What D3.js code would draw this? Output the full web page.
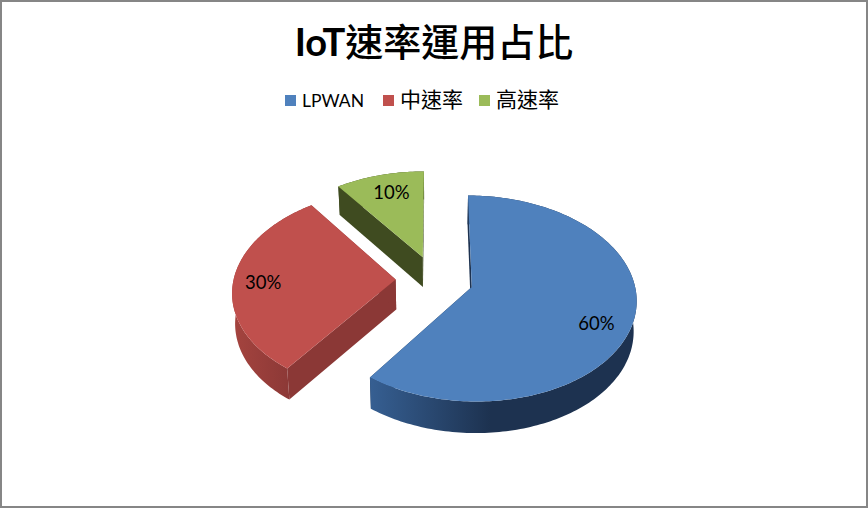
<!DOCTYPE html>
<html>
<head>
<meta charset="utf-8">
<script src="https://cdn.jsdelivr.net/npm/d3@7"></script>
<style>
html,body{margin:0;padding:0;background:#fff;}
svg{display:block;}
text{fill:#000;}
</style>
</head>
<body>
<svg id="chart" width="868" height="508"></svg>
<script>
var categories = ["LPWAN", "中速率", "高速率"];
var shares = [60, 30, 10];
var labels = ["60%", "30%", "10%"];
var titleLatin = "IoT";
var titleCjk = "速率運用占比";

var topColors = ["#4f81bd", "#c0504d", "#9bbb59"];
var wallColors = ["#1d3250", "#8b3836", "#3f4b20"];
var sideStops = [["#365f92", "#1d3250"], ["#a5443f", "#8b3836"], ["#3f4b20", "#3f4b20"]];

var W = 868, H = 508;
var cjkFont = "'Noto Sans CJK TC','Noto Sans CJK SC',sans-serif";
var latinFont = "Lato,'Open Sans',sans-serif";

var svg = d3.select("#chart");
var defs = svg.append("defs");

svg.append("rect").attr("x", 1).attr("y", 1).attr("width", W - 2).attr("height", H - 2)
    .attr("fill", "#fff").attr("stroke", "#868686").attr("stroke-width", 2);

// perspective view of the pie disc, u goes right and v towards the viewer
var cx = 434.5, cy = 279.5, bx = 162, by = 100, persp = 0.111;
var explode = 0.24, thickness = 30, shrink = 0.985;

function project(u, v){
    var w = 1 - persp*v;
    return [cx + bx*u/w, cy + by*v/w];
}
function lower(p, v){
    return [cx + (p[0]-cx)*shrink, p[1] + thickness + 1.5*v];
}

var pie = d3.pie().sort(null)(shares);
var slices = pie.map(function(d, i){
    var mid = (d.startAngle + d.endAngle)/2;
    return {
        i: i,
        a0: d.startAngle,
        a1: d.endAngle,
        mid: mid,
        ou: explode*Math.sin(mid),
        ov: -explode*Math.cos(mid)
    };
});

function arcPoints(s){
    var pts = [];
    var n = Math.ceil((s.a1 - s.a0)/0.02);
    for (var k=0; k<=n; k++){
        var a = s.a0 + (s.a1 - s.a0)*k/n;
        var v = s.ov - Math.cos(a);
        var p = project(s.ou + Math.sin(a), v);
        pts.push({top: p, bottom: lower(p, v)});
    }
    return pts;
}

var line = d3.line();
var drawOrder = [2, 1, 0];
var layer = svg.append("g");

drawOrder.forEach(function(idx){
    var s = slices[idx];
    var pts = arcPoints(s);
    var apex = project(s.ou, s.ov);
    var apexLow = lower(apex, s.ov);
    var first = pts[0], last = pts[pts.length-1];

    // radial walls
    [first, last].forEach(function(e){
        layer.append("path")
            .attr("d", line([apex, e.top, e.bottom, apexLow]) + "Z")
            .attr("fill", wallColors[idx]);
    });

    // outer wall, lit from the left
    var xs = pts.map(function(p){ return p.top[0]; });
    var gid = "side" + idx;
    var grad = defs.append("linearGradient").attr("id", gid)
        .attr("gradientUnits", "userSpaceOnUse")
        .attr("x1", d3.min(xs)).attr("x2", idx==0 ? 490 : d3.min(xs) + 60)
        .attr("y1", 0).attr("y2", 0);
    grad.append("stop").attr("offset", 0).attr("stop-color", sideStops[idx][0]);
    grad.append("stop").attr("offset", 1).attr("stop-color", sideStops[idx][1]);
    var ring = pts.map(function(p){ return p.top; })
        .concat(pts.map(function(p){ return p.bottom; }).reverse());
    layer.append("path").attr("d", line(ring) + "Z").attr("fill", "url(#" + gid + ")");

    // top face
    var face = [apex].concat(pts.map(function(p){ return p.top; }));
    layer.append("path").attr("d", line(face) + "Z").attr("fill", topColors[idx]);
});

// data labels, placed along each slice's bisector
var labelFrac = 0.78;
var labelNudge = [[-1, 11], [-6, 2], [3, 0]];
slices.forEach(function(s){
    var p = project(s.ou + labelFrac*Math.sin(s.mid), s.ov - labelFrac*Math.cos(s.mid));
    svg.append("text")
        .attr("x", p[0] + labelNudge[s.i][0])
        .attr("y", p[1] + labelNudge[s.i][1])
        .attr("text-anchor", "middle")
        .attr("dominant-baseline", "central")
        .style("font-family", latinFont)
        .style("font-size", "18.5px")
        .text(labels[s.i]);
});

// title
var title = svg.append("text").attr("x", 434).attr("y", 56).attr("text-anchor", "middle");
title.append("tspan").style("font-family", latinFont).style("font-weight", 700)
    .style("font-size", "38px").text(titleLatin);
title.append("tspan").style("font-family", cjkFont).style("font-weight", 500)
    .style("font-size", "38px").text(titleCjk);

// legend
var legendX = [285, 383, 479];
var legend = svg.append("g");
categories.forEach(function(c, i){
    legend.append("rect").attr("x", legendX[i]).attr("y", 95)
        .attr("width", 11).attr("height", 11).attr("fill", topColors[i]);
    legend.append("text").attr("x", legendX[i] + 17).attr("y", 107)
        .style("font-family", i==0 ? latinFont : cjkFont)
        .style("font-size", i==0 ? "17.5px" : "21px")
        .text(c);
});
</script>
</body>
</html>
